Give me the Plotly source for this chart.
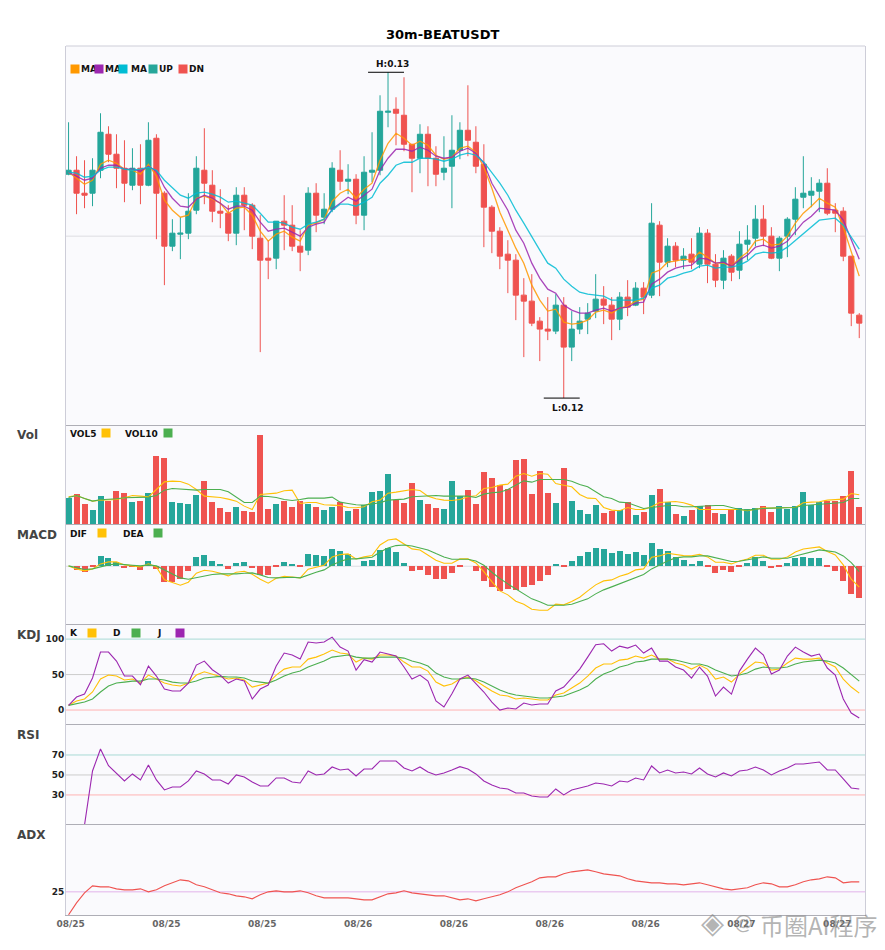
import plotly.graph_objects as go
from plotly.subplots import make_subplots

price_open = [1281,1283,1271.5,1271.5,1283,1301,1291,1284,1275.5,1284,1275.5,1299,1271.5,1245,1251,1251.5,1263,1283,1275.5,1262.5,
 1261.5,1251.5,1270.5,1265.5,1249,1239,1239,1257.5,1255.5,1245,1243,1271.5,1259.5,1263.5,1283,1277.5,1278.5,1260.5,1282,1283,
 1312,1313.5,1310.5,1296,1289,1301,1289,1282,1285,1293,1303,1297,1286,1264.5,1252.5,1241,1238,1220.5,1217.5,1207.5,
 1203.5,1202.5,1215.5,1194.5,1203.5,1208.5,1212.5,1218.5,1215.5,1208.5,1219.5,1215.5,1224,1220.5,1255.5,1237,1245,1238,1241,1236,
 1251.5,1236,1228,1240,1233,1246,1249,1258.5,1250,1239,1250,1258.5,1269.5,1270.5,1272.5,1276.5,1263,1262.5,1240,1210.5]
price_close = [1283,1271.5,1270.5,1283,1302,1291,1284,1276.5,1284,1275.5,1298,1271.5,1245,1251.5,1251.5,1262.5,1284,1276.5,1262.5,1261.5,
 1251.5,1270.5,1265.5,1250,1238,1238,1257.5,1255.5,1245,1242,1271.5,1260.5,1263.5,1284,1277.5,1278.5,1260.5,1282,1283,1312.5,
 1312.5,1311.5,1296,1289,1301,1289,1281,1284,1293,1303,1298,1285,1264.5,1252.5,1240,1238,1220.5,1217.5,1206.5,1203.5,
 1202.5,1215.5,1194.5,1203.5,1207.5,1211.5,1218.5,1215.5,1208.5,1219.5,1214.5,1224,1219.5,1256.5,1237,1245,1238,1240,1237,1251.5,
 1236,1228,1239,1232,1246,1248,1258.5,1250,1239,1249,1258.5,1268.5,1271.5,1272.5,1276.5,1261.5,1261.5,1240,1211.5,1206.5]
price_high = [1307,1290,1288,1289,1311.5,1305,1301,1298,1294,1296,1307,1301,1272.5,1258.5,1259.5,1271.5,1290,1304,1283,1273.5,
 1265.5,1274.5,1274.5,1266.5,1260.5,1248,1257.5,1270.5,1265.5,1253,1274.5,1276.5,1271.5,1287,1293,1286,1281,1290,1302,1320.5,
 1332,1319.5,1329.5,1296,1306,1305,1295,1300,1310.5,1307,1325.5,1305,1296,1265.5,1254.5,1248,1241,1229,1231,1209.5,
 1219.5,1221,1219.5,1212.5,1214.5,1216.5,1231,1225,1219.5,1222,1228,1227,1227,1266.5,1257.5,1249,1247,1244,1249,1254.5,
 1253.5,1241,1243,1241,1252.5,1255.5,1265.5,1265.5,1254.5,1250,1259.5,1274.5,1290,1279.5,1278.5,1284,1266.5,1264.5,1240,1211.5]
price_low = [1280.5,1261,1264,1265,1279,1287,1274,1267,1273,1266,1275,1248.5,1225.5,1242.5,1238.5,1248.5,1261,1266,1257,1254,
 1247.5,1245.5,1253,1243.5,1192,1228.5,1233.5,1243,1242.5,1232.5,1240.5,1252,1256,1262,1273,1271,1256,1253,1277,1280.5,
 1304.5,1295.5,1292.5,1272,1281.5,1275,1275,1278,1264,1288.5,1290,1281.5,1244.5,1241.5,1233.5,1221.5,1208,1189.5,1205,1187.5,
 1198,1201,1169,1187.5,1201,1201,1209,1206,1198,1203,1210,1215,1211,1219,1220,1234.5,1234.5,1233.5,1233.5,1234,
 1226.5,1224.5,1223.5,1227.5,1228.5,1238,1245,1245,1238.5,1232.5,1239.5,1250.5,1264,1264.5,1262,1260.5,1252,1237.5,1205,1199]

ma_fast = [1282,1279,1276,1278,1286,1288,1286.5,1283.5,1283,1281,1286,1280,1268,1263,1259.5,1260.5,1269,1270,1268.5,1266.5,
 1261.5,1264,1264.5,1260.5,1252.5,1247.5,1251,1252.5,1249.5,1247.5,1255.5,1256.5,1258.5,1267.5,1271.5,1273.5,1269,1273.5,1276.5,1288,
 1296.5,1301.5,1299,1295.5,1297.5,1295.5,1290.5,1288.5,1289.5,1294,1295,1292,1284.5,1274,1262,1253,1244,1236.5,1225.5,1218,
 1212.5,1213.5,1207,1206,1206.5,1208,1212,1213,1211.5,1214,1215,1217.5,1218.5,1231.5,1233,1237,1237.5,1238.5,1238,1242,
 1239.5,1236.5,1236.5,1235,1239,1242,1247.5,1248.5,1245.5,1246,1250,1256.5,1261.5,1265,1269,1266.5,1264.5,1254.5,1242,1230]
ma_mid = [1282,1280,1278,1279,1284,1285.5,1285.5,1283.5,1283.5,1282.5,1285,1282.5,1274.5,1269,1265,1264.5,1268.5,1270.5,1269,1266.5,
 1263.5,1265,1265,1263,1257,1252.5,1253.5,1254,1252,1250,1254.5,1256,1257,1263.5,1266.5,1269.5,1267.5,1270.5,1273.5,1283,
 1289,1293.5,1293.5,1292.5,1294.5,1293,1290,1289,1289.5,1292.5,1294,1291.5,1286.5,1276.5,1269.5,1263,1253,1246.5,1236.5,1229,
 1223.5,1221.5,1215.5,1213,1211.5,1211.5,1213,1214,1212.5,1214,1214.5,1216.5,1217,1226,1228.5,1232,1234,1235,1235.5,1239,
 1238.5,1236.5,1237,1235,1238,1240.5,1244.5,1245.5,1244,1245,1247.5,1252,1257,1260,1264,1263.5,1263,1258,1248,1238.5]
ma_slow = [1282,1281.5,1279.5,1280,1283,1284.5,1284.5,1283.5,1283,1283.5,1284.5,1283,1278,1274,1270.5,1269,1271.5,1272,1271,1269.5,
 1267,1267.5,1266.5,1265.5,1261.5,1257,1257,1256.5,1254.5,1253.5,1256,1257,1258.5,1263,1266,1266,1265,1267,1269.5,1276.5,
 1280.5,1285.5,1287,1287,1289,1289,1288.5,1287.5,1288.5,1290.5,1291.5,1290.5,1287,1282,1276.5,1270.5,1263,1256.5,1249.5,1243,
 1236.5,1234,1228.5,1225,1222,1221,1220.5,1220,1218,1218,1218,1218,1219,1224,1225.5,1229,1230,1231.5,1232.5,1235,
 1235.5,1234,1234.5,1234.5,1235.5,1237.5,1241,1242,1241.5,1242,1244.5,1248,1251,1254.5,1258,1258.5,1259,1255.5,1249.5,1243.5]

volume = [82,94,64,46,88,73,103,97,70,73,97,208,202,70,67,64,91,133,70,52,
 40,55,43,40,271,49,64,73,55,73,64,55,46,55,70,43,49,61,100,103,
 154,76,67,127,76,64,52,49,133,88,106,64,160,142,121,109,196,199,94,163,
 97,67,172,73,46,34,61,37,43,46,70,31,40,91,109,70,34,28,46,58,
 61,37,34,46,52,49,52,58,40,58,49,58,100,61,70,73,73,88,163,55]
vol5 = [83,87,78,70,73,74,75,80,87,85,83,105,128,130,129,121,105,85,84,81,
 76,70,55,45,90,91,94,101,103,63,66,66,59,58,57,51,50,53,68,73,
 94,97,100,105,102,85,77,73,72,75,83,86,108,111,118,121,145,153,145,153,
 151,123,118,113,90,79,78,51,43,41,51,45,45,53,66,68,69,65,58,45,
 45,45,45,45,45,41,45,50,49,51,51,51,65,67,68,73,75,76,93,89]
vol10 = [81,87,78,70,74,75,77,80,80,81,82,87,103,108,106,104,103,105,105,105,
 98,83,66,66,85,84,81,75,72,75,79,79,79,82,67,63,59,58,61,65,
 73,75,76,83,85,86,87,85,85,87,85,81,91,95,97,105,118,131,127,135,
 135,135,135,130,120,113,98,83,78,67,65,57,48,51,55,57,57,53,53,55,
 57,57,57,51,45,43,46,48,49,50,50,51,57,59,60,61,63,66,78,78]

macd_hist = [0,-12,-18,-2,28,22,10,-8,-5,-14,13,-11,-50,-50,-41,-17,25,31,13,4,
 -11,7,10,-8,-29,-29,-2,10,4,-2,34,31,28,49,43,34,0,13,16,46,
 52,40,7,-17,-14,-29,-41,-41,-23,-2,0,-17,-47,-65,-77,-71,-74,-65,-59,-47,
 -29,4,-2,13,28,40,52,49,37,43,34,40,31,67,49,43,25,16,4,13,
 -2,-23,-14,-20,-2,7,25,13,-8,-5,7,22,25,22,22,-5,-17,-47,-86,-98]
dif = [1,-8,-14,-8,7,13,13,4,1,-2,7,-2,-41,-48,-57,-48,-21,-12,-15,-21,
 -29,-18,-15,-24,-39,-51,-36,-30,-33,-35,-9,-2,3,28,35,37,22,28,32,64,
 79,82,67,52,49,34,18,9,9,22,22,10,-16,-46,-74,-86,-105,-114,-129,-132,
 -132,-114,-116,-106,-93,-74,-56,-44,-41,-30,-23,-11,-8,27,31,39,35,32,31,36,
 28,12,12,7,16,22,33,33,21,21,28,43,52,54,58,44,34,4,-39,-63]
dea = [1,-5,-10,-8,-2,4,7,4,3,1,4,1,-11,-23,-35,-39,-34,-29,-25,-23,
 -24,-23,-21,-20,-26,-34,-35,-34,-33,-35,-26,-18,-11,4,14,22,22,25,27,43,
 55,62,64,61,56,49,38,28,21,21,21,16,3,-18,-37,-53,-68,-84,-98,-107,
 -117,-117,-117,-114,-107,-98,-83,-71,-62,-53,-44,-35,-25,-8,4,16,25,28,28,31,
 31,25,21,14,15,19,25,28,24,24,24,31,37,43,49,46,43,31,11,-16]

kdj_k = [6.6,12.7,15.5,25.4,43.7,49.3,47.9,42.3,43.7,38,49.3,43.7,38,35.2,33.8,38,49.3,54,50.7,47.9,
 43.7,45.1,42.3,32.4,35.2,38,49.3,57.7,60.6,60.6,71.8,74.6,78.9,84.5,80.3,78.9,67.6,73.2,71.8,77.5,
 77.5,76.1,67.6,60.6,60.6,54.9,39.4,33.8,36.6,43.7,46.5,41.3,33.8,26.8,21.1,19.7,15.5,16.9,15.5,14.1,
 14.1,21.1,23.9,31,38,47.9,59.2,64.8,64.8,70.4,71.8,76.1,73.2,77.5,71.8,71.8,66.2,63.4,57.7,63.4,
 57.7,43.7,46.5,39.4,50.7,59.2,67.6,66.2,56.3,57.7,66.2,73.2,71.8,71.8,73.2,66.2,60.6,43.7,32.4,23.9]
kdj_d = [6.6,8.5,11.3,15.5,25.4,33.8,38,39.4,40.8,40.8,43.7,43.7,42.3,39.4,38,38,40.8,45.1,46.5,47.4,
 46.5,46.5,45.1,40.8,39.4,38,42.3,47.9,52.1,54.9,60.6,64.8,69,74.6,76.1,77.5,74.6,73.2,73.2,74.6,
 74.6,74.6,73.2,69,66.2,62,52.1,46.5,43.7,43.7,45.1,43.7,39.4,33.8,28.2,23.9,21.1,19.7,18.3,16.9,
 16.9,18.3,19.7,23.9,28.2,33.8,43.7,50.7,54.9,60.6,63.4,67.6,69,71.8,71.8,71.8,70.4,67.6,64.8,64.8,
 62,56.3,52.1,47.9,49.3,52.1,57.7,60.6,59.2,59.2,60.6,64.8,67.6,69,70.4,69,66.2,59.2,49.3,40.8]
kdj_j = [6.6,18.3,22.5,45.1,81.7,81.7,69,47.9,47.9,35.7,62,47.9,29.6,26.8,26.8,38,63.4,69,56.8,49.3,
 38,43.7,40.8,15.5,29.6,35.2,62,80.3,77.5,71.8,95.8,94.4,95.8,102.8,88.7,83.1,56.3,70.9,67.6,81.7,
 78.9,76.1,60.6,43.7,49.3,40.8,12.7,4.2,23,43.7,49.3,38,25.4,11.3,0,2.8,1.4,9.9,7,8.5,
 8.5,26.8,32.4,45.1,57.7,74.6,92,93.4,83.1,90.1,87.3,91.6,80.3,87.3,69,69,60.6,56.3,45.1,60.6,
 47.9,19.7,32.4,22.5,54.9,71.8,87.3,77.5,50.7,56.3,76.1,88.7,81.7,76.1,78.9,59.2,49.3,15.5,-4.2,-11.3]

rsi = [0,0,0,54,76,59.3,51.3,44,51,45,60,45,35,38,38,44,54,51,45,45,
 41,50,48,43,39,39,47,47,43,42,54,50,51,58,55,56,49,56,56,64,
 64,64,57,54,58,53,50,52,55,58.3,56,51,44,40,37,36,32,32,29,28,
 28,36,30,35,37,39,42,41,39,44,43,47,45,59,52,55,52,53,51,57,
 51,48,52,49,54,55,58,55,50,54,57,61,61,62,63,55,55,46,37,36]

adx = [15.8,20.6,24.6,27.4,27,27,26.2,25.8,25.8,26.2,25,25.8,27.4,28.6,29.8,29.4,27.8,27,25.8,24.6,
 24.2,23.4,23,22.2,23.8,25,25.4,25,25,25.4,24.6,23.4,22.6,22.6,22.6,22.6,22.2,21.8,21.8,23,
 24.2,24.6,25.4,24.6,24.2,23.8,23.4,23.4,22.6,21.8,22.2,21.4,22.2,23,23.8,25,26.6,27.8,29,30.6,
 31,31,32.2,33,33.4,33.8,33,32.2,31.8,31.4,30.2,29.4,29,28.6,28.6,28.2,28.2,27.8,28.2,28.6,
 27.8,27,26.2,25.8,26.2,26.6,27.8,28.6,28.2,27,27,27.8,29,29.8,30.2,31,30.6,28.6,29,29]

tick_pos = [0.25,12.25,24.25,36.25,48.25,60.25,72.25,84.25,96.25]
tick_text = ['08/25','08/25','08/25','08/26','08/26','08/26','08/26','08/27','08/27']

UP = '#26A69A'
DN = '#EF5350'
FONT = 'DejaVu Sans'
BOLD = 'bold'

bars = list(range(len(price_open)))
o = [v / 1e4 for v in price_open]
c = [v / 1e4 for v in price_close]
h = [v / 1e4 for v in price_high]
l = [v / 1e4 for v in price_low]
vol_colors = [UP if b >= a else DN for a, b in zip(o, c)]
macd_colors = [UP if v >= 0 else DN for v in macd_hist]

# page has 8px of body margin, so the figure starts at (8, 8)
ML, MT, PW, PH = 57.5, 37.5, 800, 870
FIG_W, FIG_H = 869, 934


def px(x):
    return (x - 8 - ML) / PW


def py(y):
    return 1 - (y - 8 - MT) / PH


fig = make_subplots(rows=6, cols=1, shared_xaxes=True, vertical_spacing=0,
                    row_heights=[379, 100, 100, 100, 100, 91])

fig.add_trace(go.Candlestick(x=bars, open=o, high=h, low=l, close=c,
                             increasing=dict(line=dict(color=UP, width=1), fillcolor=UP),
                             decreasing=dict(line=dict(color=DN, width=1), fillcolor=DN)), row=1, col=1)
for vals, col in [(ma_fast, '#FF9800'), (ma_mid, '#9C27B0'), (ma_slow, '#00BCD4')]:
    fig.add_trace(go.Scatter(x=bars, y=[v / 1e4 for v in vals], mode='lines', opacity=0.85,
                             line=dict(color=col, width=1.3)), row=1, col=1)

# high / low markers, the bars sit a bit left of the wick
hi = max(h)
lo = min(l)
hi_i = h.index(hi)
lo_i = l.index(lo)
fig.add_trace(go.Scatter(x=[hi_i - 2.5, hi_i + 2], y=[hi, hi], mode='lines', line=dict(color='black', width=1)), row=1, col=1)
fig.add_trace(go.Scatter(x=[lo_i - 2.5, lo_i + 2], y=[lo, lo], mode='lines', line=dict(color='black', width=1)), row=1, col=1)

fig.add_trace(go.Bar(x=bars, y=volume, width=0.75, marker=dict(color=vol_colors, line=dict(width=0))), row=2, col=1)
fig.add_trace(go.Scatter(x=bars, y=vol5, mode='lines', line=dict(color='#FFC107', width=1.1)), row=2, col=1)
fig.add_trace(go.Scatter(x=bars, y=vol10, mode='lines', line=dict(color='#4CAF50', width=1.1)), row=2, col=1)

fig.add_trace(go.Bar(x=bars, y=macd_hist, width=0.75, marker=dict(color=macd_colors, line=dict(width=0))), row=3, col=1)
fig.add_trace(go.Scatter(x=bars, y=dif, mode='lines', line=dict(color='#FFC107', width=1.1)), row=3, col=1)
fig.add_trace(go.Scatter(x=bars, y=dea, mode='lines', line=dict(color='#4CAF50', width=1.1)), row=3, col=1)

fig.add_trace(go.Scatter(x=bars, y=kdj_k, mode='lines', line=dict(color='#FFC107', width=1.1)), row=4, col=1)
fig.add_trace(go.Scatter(x=bars, y=kdj_d, mode='lines', line=dict(color='#4CAF50', width=1.1)), row=4, col=1)
fig.add_trace(go.Scatter(x=bars, y=kdj_j, mode='lines', line=dict(color='#9C27B0', width=1.1)), row=4, col=1)

fig.add_trace(go.Scatter(x=bars, y=rsi, mode='lines', line=dict(color='#9C27B0', width=1.1)), row=5, col=1)
fig.add_trace(go.Scatter(x=bars, y=adx, mode='lines', line=dict(color='#EF5350', width=1.1)), row=6, col=1)

# reference lines
for row, val, col in [(1, 0.125, '#dddde2'), (3, 0, '#dcdce2'), (4, 100, '#a8dad5'), (4, 50, '#cccccc'), (4, 0, '#ffb3b3'),
                      (5, 70, '#a8dad5'), (5, 50, '#cccccc'), (5, 30, '#ffb3b3'), (6, 25, '#e2b3ea')]:
    fig.add_hline(y=val, line=dict(color=col, width=1), layer='below', row=row, col=1)

y_ranges = [[0.115575, 0.134515], [0, 300], [-174.5, 125.5], [-20, 120.8], [0.8, 100.8], [15.73, 52.1]]
y_ticks = [[], [], [], [0, 50, 100], [30, 50, 70], [25]]
for i in range(6):
    fig.update_yaxes(range=y_ranges[i], tickvals=y_ticks[i], showgrid=False, zeroline=False, ticks='',
                     showline=True, mirror=True, linecolor='#cdcdd8', linewidth=1, ticklabelstandoff=-1,
                     tickfont=dict(family=FONT, size=9, color='#222222', weight=BOLD), row=i + 1, col=1)
    fig.update_xaxes(range=[-0.32, 99.72], showgrid=False, zeroline=False, ticks='', showticklabels=False,
                     showline=True, linecolor='#aeaeb6', linewidth=1, rangeslider_visible=False, row=i + 1, col=1)
fig.update_xaxes(tickvals=tick_pos, ticktext=tick_text, showticklabels=True, tickangle=0,
                 tickfont=dict(family=FONT, size=9, color='#666666', weight=BOLD), row=6, col=1)

notes = []


def label(x, y, text, size=9, color='#111111', anchor='left'):
    notes.append(dict(text=text, x=px(x), y=py(y), xref='paper', yref='paper', showarrow=False,
                      xanchor=anchor, yanchor='middle', borderpad=0,
                      font=dict(family=FONT, size=size, color=color, weight=BOLD)))


def square(x, y, color):
    notes.append(dict(text=' ', x=px(x), y=py(y), xref='paper', yref='paper', showarrow=False,
                      xanchor='left', yanchor='middle', width=8, height=8, borderpad=0, bgcolor=color,
                      font=dict(size=6)))


label(442.5, 34, '30m-BEATUSDT', size=13, color='#000000', anchor='center')
for y, name in [(435, 'Vol'), (535, 'MACD'), (635, 'KDJ'), (735, 'RSI'), (835, 'ADX')]:
    label(15.5, y, name, size=12, color='#444444')

# legends: the labels are drawn first so the next square covers them
for x_t, name in [(80, 'MA'), (104, 'MA'), (130, 'MA'), (158, 'UP'), (188, 'DN')]:
    label(x_t, 69, name)
for x_sq, col in [(70, '#FF9800'), (94, '#9C27B0'), (118, '#00BCD4'), (148, UP), (178, DN)]:
    square(x_sq, 69, col)
label(69, 433.5, 'VOL5')
square(101, 433, '#FFC107')
label(124, 433.5, 'VOL10')
square(163, 433, '#4CAF50')
label(69, 534, 'DIF')
square(97, 533, '#FFC107')
label(122, 534, 'DEA')
square(153, 533, '#4CAF50')
label(69, 633.5, 'K')
square(87, 633, '#FFC107')
label(112, 633.5, 'D')
square(131, 633, '#4CAF50')
label(156, 633.5, 'J')
square(175, 633, '#9C27B0')

notes.append(dict(text=f'H:{hi:.2f}', x=hi_i + 0.55, y=hi, xref='x', yref='y', showarrow=False, yanchor='bottom', yshift=1,
                  font=dict(family=FONT, size=9, color='#111111', weight=BOLD)))
notes.append(dict(text=f'L:{lo:.2f}', x=lo_i + 0.55, y=lo, xref='x', yref='y', showarrow=False, yanchor='top', yshift=-3,
                  font=dict(family=FONT, size=9, color='#111111', weight=BOLD)))

# watermark
for x, y, text, size, fam in [(713, 923, '◈', 30, FONT), (744, 923, '@', 19, FONT), (819, 925, '币圈AI程序', 24, 'Noto Sans CJK SC')]:
    notes.append(dict(text=text, x=px(x), y=py(y), xref='paper', yref='paper', showarrow=False,
                      xanchor='center', yanchor='middle', font=dict(family=fam, size=size, color='rgba(130,130,130,0.6)')))

shapes = [dict(type='line', xref='paper', yref='paper', x0=0, x1=1, y0=1, y1=1, line=dict(color='#cdcdd8', width=1))]

fig.update_layout(width=FIG_W, height=FIG_H, showlegend=False, annotations=notes, boxgap=0.35, boxgroupgap=0,
                  margin=dict(l=ML, r=FIG_W - ML - PW, t=MT, b=FIG_H - MT - PH, pad=0),
                  plot_bgcolor='#fafafd', paper_bgcolor='white', bargap=0,
                  font=dict(family=FONT), template=None)
fig.update_layout(shapes=list(fig.layout.shapes) + shapes)

fig.write_html("out.html")
